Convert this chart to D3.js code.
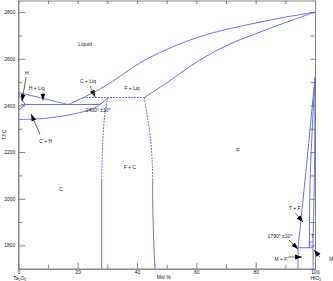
<!DOCTYPE html>
<html>
<head>
<meta charset="utf-8">
<script src="https://cdn.jsdelivr.net/npm/d3@7"></script>
<style>
    body { margin: 0; background: #fff; }
    svg { display: block; background: #fff; }
    .axis path, .axis line { stroke: #7a7a7a; stroke-width: 0.9; }
    .axis text { font-family: 'Liberation Sans', Arial, sans-serif; font-size: 5px; fill: #222; }
    .phase { fill: none; stroke: #5f5fe0; stroke-width: 0.9; }
    .phase.dashed { stroke-dasharray: 2, 1; }
    .lbl { font-family: 'Liberation Sans', Arial, sans-serif; font-size: 5px; fill: #1a1a1a; }
    .arrow { stroke: #000; stroke-width: 0.6; }
</style>
</head>
<body>
<svg id="diagram"></svg>
<script>
    // tick values
    const xMajor = [0, 20, 40, 60, 80, 100];
    const xMinor = [10, 30, 50, 70, 90];
    const yMajor = [1800, 2000, 2200, 2400, 2600, 2800];
    const yMinor = [1700, 1900, 2100, 2300, 2500, 2700];

    // phase boundaries, [mol % HfO2, T in C]
    const liquidusH = [[0, 2456], [8, 2431], [16.8, 2404]];
    const liquidusF = [[16.8, 2404], [24.2, 2448], [30.9, 2496], [34.3, 2525], [42, 2590], [53.5, 2659], [64.6, 2708], [79.1, 2751], [90.6, 2780], [100, 2800]];
    const solidusF = [[42.5, 2434], [50.5, 2501], [57.9, 2568], [64.6, 2620], [71.4, 2664], [79.1, 2703], [90.6, 2758], [100, 2800]];
    const hSolidus = [[0, 2452], [2.3, 2404]];
    const hSolvus = [[2.3, 2404], [0, 2378]];
    const eutecticLine = [[1, 2404], [27.5, 2404]];
    const peritecticLine = [[21.8, 2434], [42.5, 2434]];
    const cSolidus = [[0, 2340], [8.3, 2344], [19.7, 2366], [26.4, 2394], [30.2, 2434]];
    const cBoundaryTop = [[30.2, 2434], [29.2, 2366], [28.4, 2223], [28.1, 2080]];
    const cBoundary = [[28.1, 2080], [28.1, 1700]];
    const fcBoundaryTop = [[42.5, 2434], [43.3, 2367], [44.2, 2294], [44.8, 2223], [45.2, 2137], [45.3, 2080]];
    const fcBoundary = [[45.3, 2080], [45.3, 1981], [45.8, 1767], [46.1, 1700]];
    const fSolvus = [[100, 2520], [96.8, 2100], [94.3, 1790]];
    const tfBoundary = [[100, 2520], [98.4, 2100], [98.1, 1790]];
    const tBoundary = [[100, 2520], [99.8, 2100], [99.3, 1790]];
    const eutectoidLine = [[94.3, 1790], [99.3, 1790]];
    const tPocket = [[98.1, 1790], [98.5, 1815], [99.3, 1815]];
    const mfBoundary = [[94.3, 1790], [94.3, 1700]];
    const mBoundary = [[99.3, 1790], [99.4, 1700]];

    const solidLines = [liquidusH, liquidusF, solidusF, hSolidus, hSolvus, eutecticLine, cSolidus,
        cBoundary, fcBoundary, fSolvus, tfBoundary, tBoundary, eutectoidLine, tPocket, mfBoundary, mBoundary];
    const dashedLines = [peritecticLine, cBoundaryTop, fcBoundaryTop];

    // region labels
    const labelText = ['Liquid', 'F + Liq', 'F + C', 'F', 'C', 'H', 'H + Liq', 'C + Liq', 'C + H',
        '2400° ±10°', 'T + F', '1790° ±10°', 'M + F', 'T', 'M'];
    const labelAt = [[22.5, 2663], [38.3, 2474], [37.6, 2136], [74, 2209], [14.4, 2041], [2.9, 2540],
        [6.2, 2473], [23.5, 2504], [9.2, 2245], [26.9, 2380], [93.2, 1960], [88.2, 1838],
        [88.5, 1742], [99.2, 1838], [105.5, 1742]];

    // pointer arrows, [tail, head]
    const arrows = [
        [[2.6, 2521], [1.25, 2418]],
        [[8.3, 2457], [8.3, 2421]],
        [[24.2, 2483], [25.9, 2436]],
        [[7.3, 2277], [4.3, 2363]],
        [[93.3, 1939], [96.0, 1900]],
        [[91.2, 1823], [94.3, 1784]],
        [[90.9, 1750], [95.6, 1750]],
        [[101.7, 1750], [99.7, 1780]]
    ];

    const W = 333;
    const H = 281;
    const margin = {
        'top': 0.5,
        'bottom': 12.3,
        'left': 18.3,
        'right': 18
    };
    const width = W - margin.left - margin.right;
    const height = H - margin.top - margin.bottom;

    let x = d3.scaleLinear().domain([0, 100]).range([0, width]);
    let y = d3.scaleLinear().domain([1700, 2850]).range([height, 0]);

    let svg = d3.select('#diagram')
        .attr('width', W)
        .attr('height', H);

    svg.append('defs').append('marker')
        .attr('id', 'head')
        .attr('viewBox', '0 0 10 10')
        .attr('refX', 10)
        .attr('refY', 5)
        .attr('markerWidth', 7)
        .attr('markerHeight', 7)
        .attr('markerUnits', 'userSpaceOnUse')
        .attr('orient', 'auto')
        .append('path')
            .attr('d', 'M0,1.5 L10,5 L0,8.5 Z')
            .attr('fill', '#000');

    let chart = svg.append('g')
        .attr('transform', `translate(${margin.left}, ${margin.top})`);

    // frame with inward ticks
    chart.append('g')
        .attr('class', 'axis')
        .attr('transform', `translate(0, ${height})`)
        .call(d3.axisBottom(x).tickValues(xMinor).tickSize(-4).tickSizeOuter(0).tickFormat(''));
    chart.append('g')
        .attr('class', 'axis')
        .attr('transform', `translate(0, ${height})`)
        .call(d3.axisBottom(x).tickValues(xMajor).tickSize(-6).tickSizeOuter(0).tickPadding(2).tickFormat(d3.format('d')));
    chart.append('g')
        .attr('class', 'axis')
        .call(d3.axisTop(x).tickValues(xMinor.concat(xMajor)).tickSize(-3.5).tickSizeOuter(0).tickFormat(''));
    chart.append('g')
        .attr('class', 'axis')
        .call(d3.axisLeft(y).tickValues(yMinor).tickSize(-4).tickSizeOuter(0).tickFormat(''));
    chart.append('g')
        .attr('class', 'axis')
        .call(d3.axisLeft(y).tickValues(yMajor).tickSize(-7).tickSizeOuter(0).tickPadding(3).tickFormat(d3.format('d')));
    chart.append('g')
        .attr('class', 'axis')
        .attr('transform', `translate(${width}, 0)`)
        .call(d3.axisRight(y).tickValues(yMinor.concat(yMajor)).tickSize(-4.5).tickSizeOuter(0).tickFormat(''));

    // phase boundaries
    let line = d3.line()
        .x((d) => {
            return x(d[0]);
        })
        .y((d) => {
            return y(d[1]);
        })
        .curve(d3.curveCatmullRom.alpha(0.5));

    chart.selectAll('.solid')
        .data(solidLines)
        .enter().append('path')
            .attr('class', 'phase solid')
            .attr('d', line);

    chart.selectAll('.dashed')
        .data(dashedLines)
        .enter().append('path')
            .attr('class', 'phase dashed')
            .attr('d', line);

    chart.selectAll('.arrow')
        .data(arrows)
        .enter().append('line')
            .attr('class', 'arrow')
            .attr('x1', (d) => {
                return x(d[0][0]);
            })
            .attr('y1', (d) => {
                return y(d[0][1]);
            })
            .attr('x2', (d) => {
                return x(d[1][0]);
            })
            .attr('y2', (d) => {
                return y(d[1][1]);
            })
            .attr('marker-end', 'url(#head)');

    chart.selectAll('.lbl')
        .data(labelText)
        .enter().append('text')
            .attr('class', 'lbl')
            .attr('text-anchor', 'middle')
            .attr('dy', '0.35em')
            .attr('x', (d, i) => {
                return x(labelAt[i][0]);
            })
            .attr('y', (d, i) => {
                return y(labelAt[i][1]);
            })
            .text((d) => {
                return d;
            });

    // axis titles
    chart.append('text')
        .attr('class', 'lbl')
        .attr('text-anchor', 'middle')
        .attr('transform', `translate(-12, ${y(2275)}) rotate(-90)`)
        .text('T/°C');

    chart.append('text')
        .attr('class', 'lbl')
        .attr('text-anchor', 'middle')
        .attr('x', x(49))
        .attr('y', height + 10.5)
        .text('Mol %');

    let left = chart.append('text')
        .attr('class', 'lbl')
        .attr('text-anchor', 'middle')
        .attr('x', x(0.5))
        .attr('y', height + 11);
    left.append('tspan').text('Ta');
    left.append('tspan').attr('dy', 1.2).style('font-size', '3.5px').text('2');
    left.append('tspan').attr('dy', -1.2).text('O');
    left.append('tspan').attr('dy', 1.2).style('font-size', '3.5px').text('5');

    let right = chart.append('text')
        .attr('class', 'lbl')
        .attr('text-anchor', 'middle')
        .attr('x', x(100.3))
        .attr('y', height + 11);
    right.append('tspan').text('HfO');
    right.append('tspan').attr('dy', 1.2).style('font-size', '3.5px').text('2');
</script>
</body>
</html>
